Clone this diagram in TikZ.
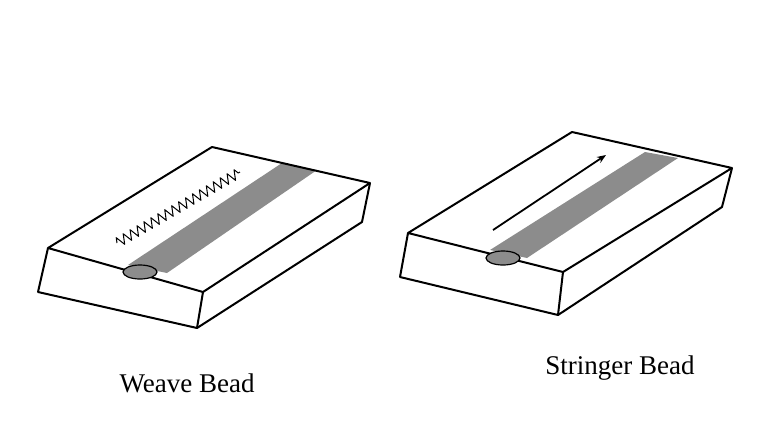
\documentclass[tikz,border=0pt]{standalone}
\usepackage{fontspec}
\setmainfont{Liberation Serif}
\usetikzlibrary{decorations.pathmorphing,arrows.meta}
\begin{document}
\begin{tikzpicture}[x=1pt,y=-1pt,line width=2pt,line join=round,
  lbl/.style={font=\fontsize{27}{30}\selectfont}]
\colorlet{bead}{black!45}
\useasboundingbox (0,0) rectangle (768,432);
% left block
\coordinate (A) at (48,248); \coordinate (B) at (212,147); \coordinate (C) at (370,183);
\coordinate (D) at (203,292); \coordinate (E) at (38,292); \coordinate (F) at (197,328); \coordinate (G) at (362,222);
\fill[bead] (128,265) -- (167,273) -- (317,170) -- (282,163) -- cycle;
\draw (A) -- (B) -- (C) -- (D) -- cycle;
\draw (A) -- (E) -- (F) -- (D);
\draw (F) -- (G) -- (C);
\draw[line width=1.2pt,fill=bead] (140,272) ellipse (17 and 7);
\draw[line width=1pt,decorate,decoration={zigzag,segment length=8pt,amplitude=5pt}] (117,243) -- (240,172);
% right block
\coordinate (A2) at (408,233); \coordinate (B2) at (572,132); \coordinate (C2) at (732,168);
\coordinate (D2) at (563,272); \coordinate (E2) at (400,277); \coordinate (F2) at (558,315); \coordinate (G2) at (722,207);
\fill[bead] (490,250) -- (527,258) -- (678,158) -- (645,152) -- cycle;
\draw (A2) -- (B2) -- (C2) -- (D2) -- cycle;
\draw (A2) -- (E2) -- (F2) -- (D2);
\draw (F2) -- (G2) -- (C2);
\draw[line width=1.2pt,fill=bead] (503,258) ellipse (17 and 7);
\coordinate (s1) at (493,230); \coordinate (s2) at (606,155);
\draw[line width=1.8pt,-{Stealth[length=9pt,width=7pt]}] (s1) -- (s2);
\node[lbl] (w) at (187,383) {Weave Bead};
\node[lbl] (s) at (620,368) {Stringer Bead};
\end{tikzpicture}
\end{document}
